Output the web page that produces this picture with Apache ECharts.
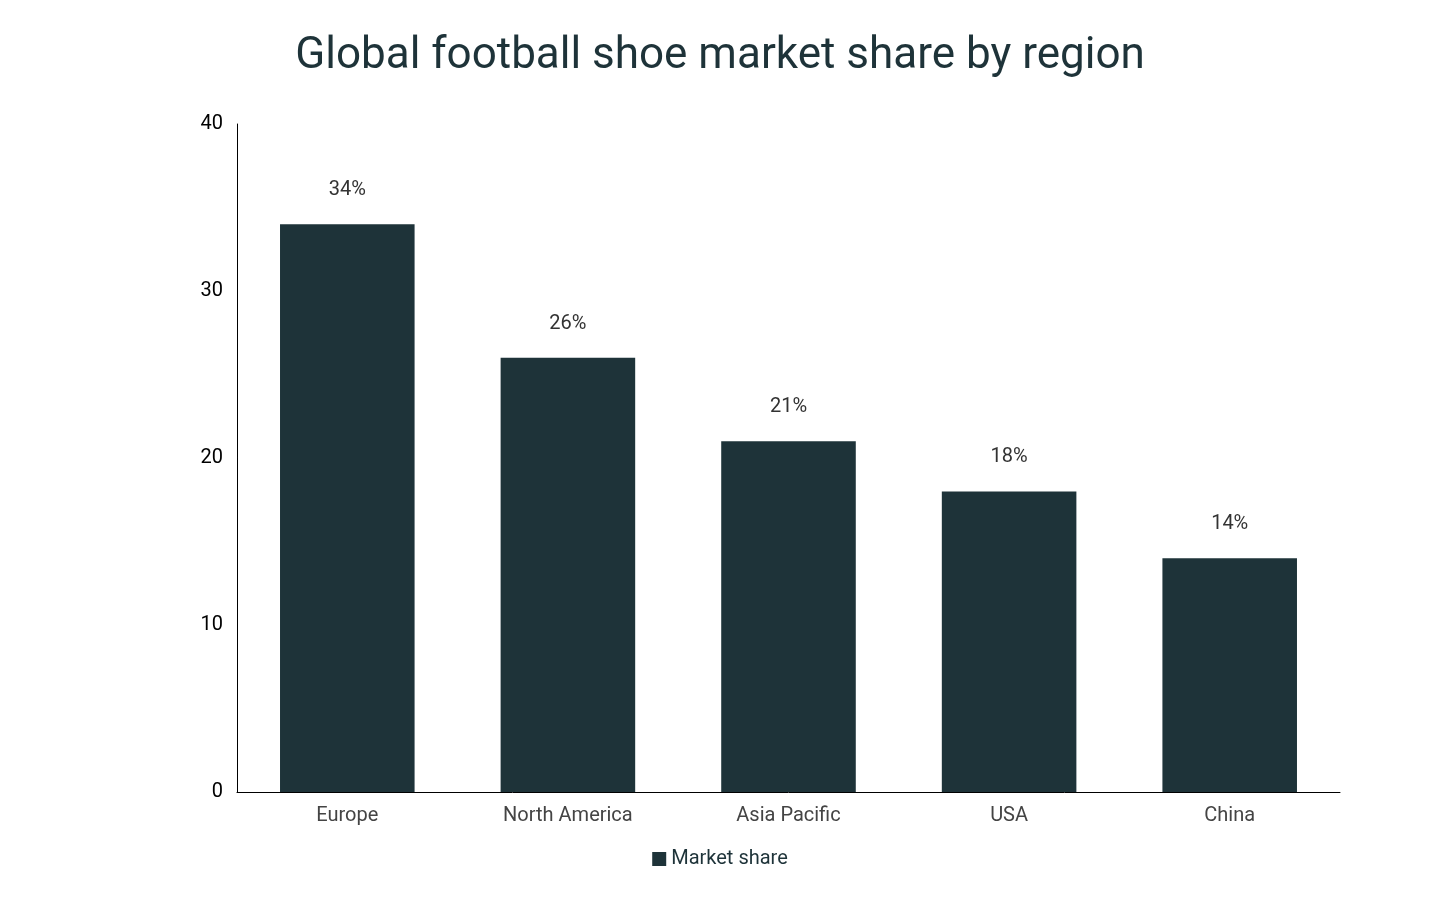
<!DOCTYPE html>
<html>
<head>
<meta charset="utf-8">
<script src="https://cdn.jsdelivr.net/npm/echarts@6/dist/echarts.min.js"></script>
<style>html,body{margin:0;padding:0;background:#fff}#chart{width:1440px;height:906px}</style>
</head>
<body>
<div id="chart"></div>
<script>
var regions = ['Europe', 'North America', 'Asia Pacific', 'USA', 'China'];
var marketShare = [34, 26, 21, 18, 14];

var chart = echarts.init(document.getElementById('chart'));
chart.setOption({
  backgroundColor: '#fff',
  textStyle: { fontFamily: 'Roboto' },
  title: {
    text: 'Global football shoe market share by region',
    left: 'center', top: 30,
    textStyle: { fontSize: 44, fontWeight: 'normal', color: '#1e3339', fontFamily: 'Roboto' }
  },
  legend: {
    bottom: 32, left: 'center',
    icon: 'rect', itemWidth: 14, itemHeight: 14,
    textStyle: { fontSize: 20, color: '#1e3339' },
    data: ['Market share']
  },
  grid: { left: 237, right: 100, top: 124, bottom: 114 },
  xAxis: {
    type: 'category', data: regions,
    axisLine: { lineStyle: { color: '#000' } },
    axisTick: { show: false },
    axisLabel: { fontSize: 20, color: '#444', margin: 14 }
  },
  yAxis: {
    type: 'value', min: 0, max: 40, interval: 10,
    axisLine: { show: true, lineStyle: { color: '#000' } },
    axisTick: { show: false },
    splitLine: { show: false },
    axisLabel: { fontSize: 20, color: '#000', margin: 14 }
  },
  series: [{
    name: 'Market share', type: 'bar', data: marketShare,
    barWidth: '61%',
    itemStyle: { color: '#1e3339' },
    label: { show: true, position: 'top', distance: 24, formatter: '{c}%', fontSize: 20, color: '#333' }
  }]
});
</script>
</body>
</html>
